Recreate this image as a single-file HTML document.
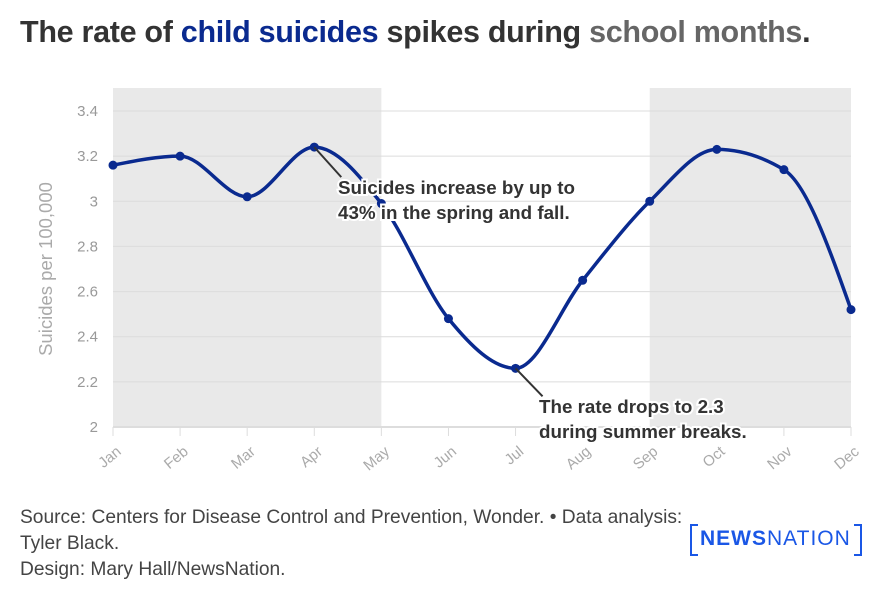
<!DOCTYPE html>
<html><head><meta charset="utf-8"><style>
body{margin:0;width:885px;height:607px;background:#fff;font-family:"Liberation Sans",sans-serif;overflow:hidden;position:relative}
h1{position:absolute;left:20px;top:15px;margin:0;font-size:30.5px;font-weight:bold;color:#333;letter-spacing:-0.3px}
.src{position:absolute;left:20px;top:505px;font-size:19.2px;color:#444;line-height:26px}
.logo{position:absolute;left:690px;top:524px;width:172px;height:32px;border-left:2px solid #1a57e6;border-right:2px solid #1a57e6;box-sizing:border-box;}
.logo:before,.logo:after{content:"";position:absolute;top:0;bottom:0;width:6px;border-top:2px solid #1a57e6;border-bottom:2px solid #1a57e6}
.logo:before{left:0}.logo:after{right:0}
.logo span{position:absolute;left:8px;top:3px;font-size:21px;color:#1a57e6;letter-spacing:1px}
</style></head><body>
<h1>The rate of <span style="color:#0a2a8f">child suicides</span> spikes during <span style="color:#666">school months</span>.</h1>
<svg id="c" width="885" height="607" style="position:absolute;left:0;top:0"></svg>
<div class="src">Source: Centers for Disease Control and Prevention, Wonder. • Data analysis:<br>Tyler Black.<br>Design: Mary Hall/NewsNation.</div>
<div class="logo"><span><b>NEWS</b>NATION</span></div>
<script>
const months=["Jan","Feb","Mar","Apr","May","Jun","Jul","Aug","Sep","Oct","Nov","Dec"];
const rates=[3.16,3.20,3.02,3.24,2.99,2.48,2.26,2.65,3.00,3.23,3.14,2.52];
const yTicks=[2,2.2,2.4,2.6,2.8,3,3.2,3.4];
const yTickLabels=["2","2.2","2.4","2.6","2.8","3","3.2","3.4"];
const shadedRanges=[[0,4],[8,11]];
const svg=document.getElementById('c');const NS="http://www.w3.org/2000/svg";
const x=i=>113+i*(851-113)/11;
const y=v=>427-(v-2)*(427-111)/1.4;
function mk(t,a,p){const e=document.createElementNS(NS,t);for(const k in a)e.setAttribute(k,a[k]);(p||svg).appendChild(e);return e;}
shadedRanges.forEach(r=>{const e=mk('rect',{x:x(r[0]),y:88,width:x(r[1])-x(r[0]),height:339,fill:'#e9e9e9'});

});
yTicks.forEach((t,i)=>{const g=mk('line',{x1:x(0),x2:x(11),y1:y(t),y2:y(t),stroke:i==0?'#ddd':'#dcdcdc','stroke-width':i==0?2:1});


const l=mk('text',{x:98,y:y(t)+5,'text-anchor':'end','font-size':15,fill:'#999'});l.textContent=yTickLabels[i];

});
months.forEach((m,i)=>{mk('line',{x1:x(i),x2:x(i),y1:427,y2:436,stroke:'#ddd'});
const l=mk('text',{transform:`translate(${x(i)+9},${453}) rotate(-40)`,'text-anchor':'end','font-size':15,fill:'#aaa'});l.textContent=m;

});
const yt=mk('text',{transform:'translate(52,269) rotate(-90)','text-anchor':'middle','font-size':18.5,fill:'#aaa'});yt.textContent='Suicides per 100,000';


const P=rates.map((v,i)=>[x(i),y(v)]);
const n=P.length,s=[],m=[];
for(let i=0;i<n-1;i++)s.push((P[i+1][1]-P[i][1])/(P[i+1][0]-P[i][0]));
for(let i=0;i<n;i++){
 if(i==0||i==n-1){m.push(0);continue;}
 const a=s[i-1],b=s[i];
 if(a*b<=0){m.push(0);continue;}
 const h=P[i][0]-P[i-1][0],h1=P[i+1][0]-P[i][0],p=(a*h1+b*h)/(h+h1);
 m.push((Math.sign(a)+Math.sign(b))*Math.min(Math.abs(a),Math.abs(b),0.5*Math.abs(p)));}
m[0]=(3*s[0]-m[1])/2; m[n-1]=(3*s[n-2]-m[n-2])/2;
let d=`M${P[0][0]},${P[0][1]}`;
for(let i=0;i<n-1;i++){const dx=(P[i+1][0]-P[i][0])/3;
d+=` C${P[i][0]+dx},${P[i][1]+dx*m[i]} ${P[i+1][0]-dx},${P[i+1][1]-dx*m[i+1]} ${P[i+1][0]},${P[i+1][1]}`;}
const line=mk('path',{d,fill:'none',stroke:'#0a2a8f','stroke-width':3.5});


P.forEach((p,i)=>{const c=mk('circle',{cx:p[0],cy:p[1],r:4.5,fill:'#0a2a8f'});

});
mk('line',{x1:x(3),y1:y(rates[3]),x2:x(3)+27,y2:y(rates[3])+30,stroke:'#333','stroke-width':2});
mk('line',{x1:x(6),y1:y(rates[6]),x2:x(6)+27,y2:y(rates[6])+28,stroke:'#333','stroke-width':2});
function ann(tx,ty,lines,name){const t=mk('text',{x:tx,y:ty,'font-size':18.8,'font-weight':'bold',fill:'#333',stroke:'#fff','stroke-width':4,'paint-order':'stroke'});


lines.forEach((s,i)=>{const ts=mk('tspan',{x:tx,dy:i?25:0},t);ts.textContent=s;});}
ann(338,194,["Suicides increase by up to","43% in the spring and fall."],'annotation-spring-fall');
ann(539,413,["The rate drops to 2.3","during summer breaks."],'annotation-summer');
</script>
</body></html>
